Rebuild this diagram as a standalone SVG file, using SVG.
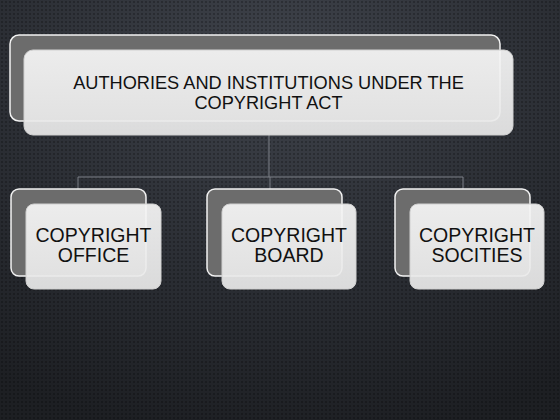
<svg xmlns="http://www.w3.org/2000/svg" width="560" height="420" viewBox="0 0 560 420">
<defs>
<radialGradient id="bg" cx="0.5" cy="0.15" r="0.9">
<stop offset="0" stop-color="#3f434b"/>
<stop offset="0.6" stop-color="#2a2d33"/>
<stop offset="1" stop-color="#1d1f23"/>
</radialGradient>
<pattern id="dots" width="4" height="4" patternUnits="userSpaceOnUse">
<circle cx="2" cy="2" r="1" fill="#000" fill-opacity="0.3"/>
</pattern>
<linearGradient id="front" x1="0" y1="0" x2="0" y2="1">
<stop offset="0" stop-color="#f6f6f6"/>
<stop offset="1" stop-color="#e8e8e8"/>
</linearGradient>
<style>
.back{fill:#6c6c6c;stroke:#f2f2f2;stroke-width:1.5}
.front{fill:url(#front);fill-opacity:0.93;stroke:#d0d0d0;stroke-width:1}
.lbl{font-family:"Liberation Sans",Arial,sans-serif;font-size:19.5px;fill:#111;text-anchor:middle}
.big{font-size:18.2px}
.conn{stroke:#7c8088;stroke-width:1;fill:none}
</style>
</defs>
<rect width="560" height="420" fill="url(#bg)"/>
<rect width="560" height="420" fill="url(#dots)"/>
<g id="connectors">
<path class="conn" d="M269,135 V177 M78,177 H463 M78,177 V189 M270,177 V189 M463,177 V189"/>
</g>
<g id="node-top">
<rect class="back" x="10" y="35" width="490" height="86" rx="9"/>
<rect class="front" x="24" y="50" width="489" height="85" rx="9"/>
<text class="lbl big" x="268.5" y="89">AUTHORIES AND INSTITUTIONS UNDER THE</text>
<text class="lbl big" x="268.5" y="109">COPYRIGHT ACT</text>
</g>
<g id="node-office">
<rect class="back" x="11" y="189" width="135" height="87" rx="8"/>
<rect class="front" x="26" y="204" width="135" height="85" rx="8"/>
<text class="lbl" x="93.5" y="242">COPYRIGHT</text>
<text class="lbl" x="93.5" y="262">OFFICE</text>
</g>
<g id="node-board">
<rect class="back" x="207" y="189" width="135" height="87" rx="8"/>
<rect class="front" x="222" y="204" width="134" height="85" rx="8"/>
<text class="lbl" x="289" y="242">COPYRIGHT</text>
<text class="lbl" x="289" y="262">BOARD</text>
</g>
<g id="node-societies">
<rect class="back" x="395" y="189" width="135" height="87" rx="8"/>
<rect class="front" x="410" y="204" width="134" height="85" rx="8"/>
<text class="lbl" x="477" y="242">COPYRIGHT</text>
<text class="lbl" x="477" y="262">SOCITIES</text>
</g>
</svg>
